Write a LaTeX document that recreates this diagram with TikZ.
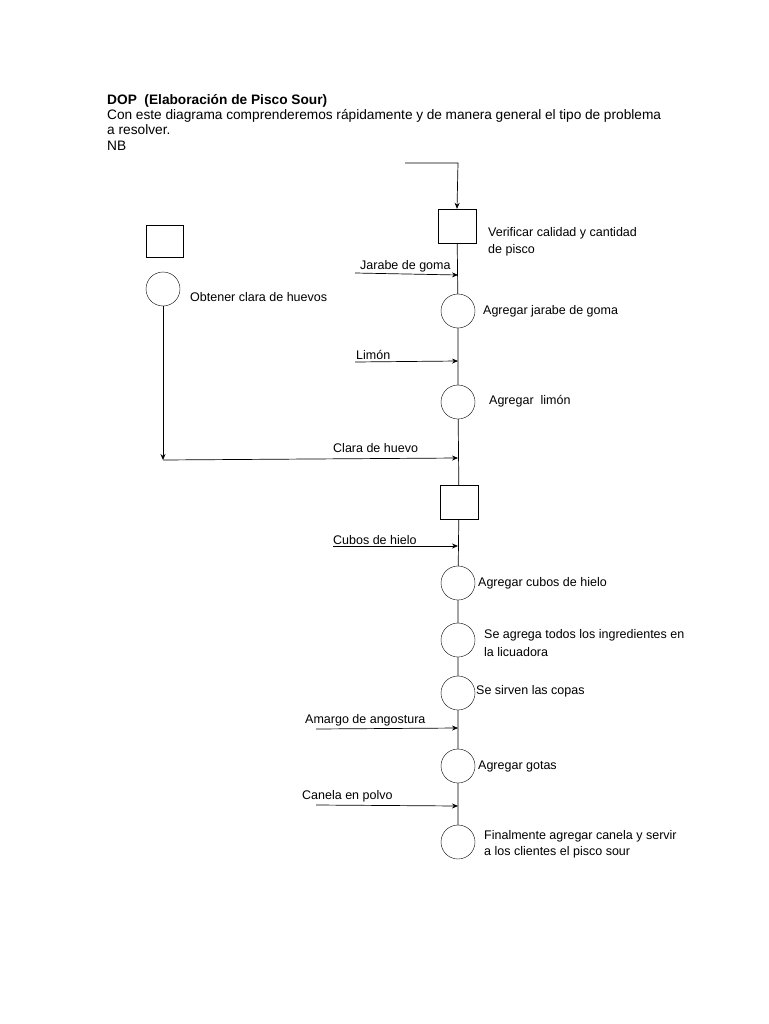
\documentclass[tikz,border=0pt]{standalone}
\usepackage{fontspec}
\setmainfont{Liberation Sans}
\usetikzlibrary{arrows.meta}
\begin{document}
\begin{tikzpicture}[x=1pt,y=-1pt,
 op/.style={draw,circle,minimum size=34pt,inner sep=0pt},
 sq/.style={draw,minimum width=38pt,minimum height=34pt,inner sep=0pt},
 lb/.style={anchor=west,font=\fontsize{12.5}{14}\selectfont,inner sep=0pt},
 ar/.style={-{Stealth[length=6pt,width=5pt]}},
 ln/.style={line width=0.7pt}]
\useasboundingbox (0,0) rectangle (768,1024);
\node[anchor=west,inner sep=0pt,font=\fontsize{13.7}{15}\selectfont\bfseries] (t) at (107,101) {DOP\ \ (Elaboración de Pisco Sour)};
\node[anchor=north west,inner sep=0pt,text width=554pt,align=justify,font=\fontsize{13.7}{15.5}\selectfont] (p) at (107,109) {Con este diagrama comprenderemos rápidamente y de manera general el tipo de problema a resolver.\\NB};
\coordinate (s0) at (405,163); \coordinate (s1) at (458,163);
\node[sq] (q1) at (457,226) {};
\node[sq,minimum width=37pt,minimum height=32pt] (ql) at (165,241) {};
\node[op] (cl) at (163,289) {};
\node[op] (c2) at (458,311) {};
\node[op] (c3) at (458,402) {};
\node[sq] (q2) at (459,502) {};
\node[op] (c4) at (458,583) {};
\node[op] (c5) at (458,640) {};
\node[op] (c6) at (458,693) {};
\node[op] (c7) at (458,766) {};
\node[op] (c8) at (458,842) {};
\draw[ln,ar] (s0) -- (s1) -- (q1.north);
\draw[ln] (q1) -- (c2) -- (c3) -- (q2) -- (c4) -- (c5) -- (c6) -- (c7) -- (c8);
\coordinate (lb1) at (163,460);
\draw[ln,ar] (cl.south) -- (lb1);
\draw[ln,ar] (lb1) -- (458,458);
\draw[ln,ar] (355,273) -- (458,275);
\draw[ln,ar] (355,362) -- (458,361);
\draw[ln,ar] (333,546) -- (458,546);
\draw[ln,ar] (316,729) -- (458,728);
\draw[ln,ar] (316,805) -- (458,806);
\node[lb] at (488,233) {Verificar calidad y cantidad};
\node[lb] at (488,250) {de pisco};
\node[lb] at (190,297) {Obtener clara de huevos};
\node[lb] at (360,266) {Jarabe de goma};
\node[lb] at (483,311) {Agregar jarabe de goma};
\node[lb] at (356,355) {Limón};
\node[lb] at (489,401) {Agregar\ \ limón};
\node[lb] at (333,448) {Clara de huevo};
\node[lb] at (333,540) {Cubos de hielo};
\node[lb] at (478,583) {Agregar cubos de hielo};
\node[lb] at (484,635) {Se agrega todos los ingredientes en};
\node[lb] at (484,652) {la licuadora};
\node[lb] at (476,691) {Se sirven las copas};
\node[lb] at (305,720) {Amargo de angostura};
\node[lb] at (478,766) {Agregar gotas};
\node[lb] at (302,796) {Canela en polvo};
\node[lb] at (484,836) {Finalmente agregar canela y servir};
\node[lb] at (484,852) {a los clientes el pisco sour};
\end{tikzpicture}
\end{document}
